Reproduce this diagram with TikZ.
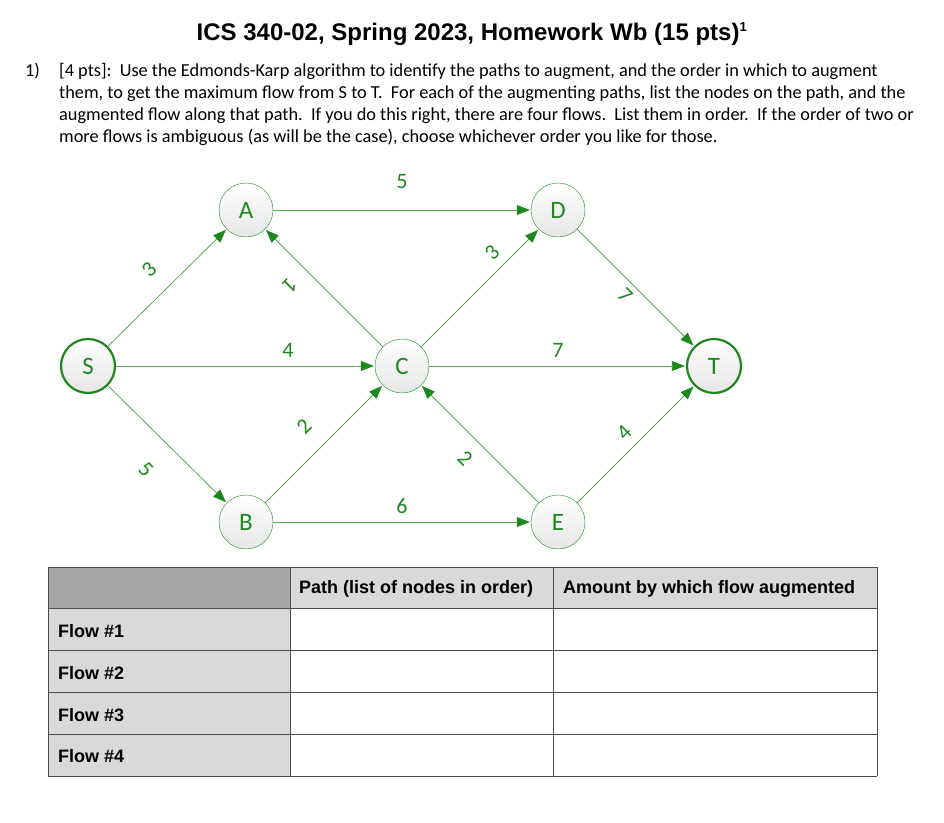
\documentclass[tikz,border=0pt]{standalone}
\usepackage{fontspec}
\setmainfont{Carlito}
\newfontfamily\arialf{Liberation Sans}
\usetikzlibrary{arrows.meta}
\definecolor{gr}{RGB}{30,135,30}
\definecolor{lgr}{RGB}{217,217,217}
\definecolor{dgr}{RGB}{166,166,166}
\tikzset{
 vtx/.style={circle,draw=gr,minimum size=54pt,inner sep=0pt,top color=white,bottom color=black!10,text=gr,font=\fontsize{25}{26}\selectfont},
 thickvtx/.style={vtx,line width=2.2pt},
 edge/.style={draw=gr!75,line width=0.8pt,-{Triangle[length=13pt,width=10pt,color=gr]},shorten >=1pt},
 lab/.style={text=gr,font=\fontsize{22}{24}\selectfont,inner sep=0pt},
 body/.style={anchor=base west,inner sep=0pt,font=\fontsize{18.3}{20}\selectfont},
 cell/.style={draw=black!70,line width=0.8pt},
 tt/.style={anchor=west,inner sep=0pt,font=\arialf\bfseries\fontsize{18}{20}\selectfont}
}
\begin{document}
\begin{tikzpicture}[x=1pt,y=-1pt]
\useasboundingbox (0,0) rectangle (944,822);
\node[inner sep=0pt,font=\arialf\bfseries\fontsize{24}{26}\selectfont] (title) at (472,34) {ICS 340-02, Spring 2023, Homework Wb (15 pts)\textsuperscript{\fontsize{13}{13}\selectfont 1}};
\node[body] (n1) at (25,76) {1)};
\node[body] (l1) at (59,76) {[4 pts]:\ \ Use the Edmonds-Karp algorithm to identify the paths to augment, and the order in which to augment};
\node[body] (l2) at (59,98) {them, to get the maximum flow from S to T.\ \ For each of the augmenting paths, list the nodes on the path, and the};
\node[body] (l3) at (59,120) {augmented flow along that path.\ \ If you do this right, there are four flows.\ \ List them in order.\ \ If the order of two or};
\node[body] (l4) at (59,142) {more flows is ambiguous (as will be the case), choose whichever order you like for those.};

\node[thickvtx] (S) at (88,366) {S};
\node[vtx] (A) at (246,210) {A};
\node[vtx] (D) at (558,210) {D};
\node[vtx] (C) at (402,366) {C};
\node[thickvtx] (T) at (714,366) {T};
\node[vtx] (B) at (246,522) {B};
\node[vtx] (E) at (558,522) {E};

\draw[edge] (S) -- (A);
\draw[edge] (S) -- (C);
\draw[edge] (S) -- (B);
\draw[edge] (C) -- (A);
\draw[edge] (B) -- (C);
\draw[edge] (A) -- (D);
\draw[edge] (B) -- (E);
\draw[edge] (C) -- (D);
\draw[edge] (C) -- (T);
\draw[edge] (E) -- (C);
\draw[edge] (D) -- (T);
\draw[edge] (E) -- (T);

\node[lab,rotate=45] (w1) at (149,270) {3};
\node[lab] (w2) at (288,350) {4};
\node[lab,rotate=-45] (w3) at (146,469) {5};
\node[lab,rotate=-135] (w4) at (290,285) {1};
\node[lab,rotate=45] (w5) at (304,427) {2};
\node[lab] (w6) at (402,182) {5};
\node[lab] (w7) at (402,506) {6};
\node[lab,rotate=45] (w8) at (492,253) {3};
\node[lab] (w9) at (558,350) {7};
\node[lab,rotate=-45] (w10) at (625,295) {7};
\node[lab,rotate=-45] (w11) at (465,458) {2};
\node[lab,rotate=45] (w12) at (624,433) {4};

% table
\fill[dgr] (48,567) rectangle (290,608);
\fill[lgr] (290,567) rectangle (877,608);
\fill[lgr] (48,608) rectangle (290,776);
\foreach \y in {567,608,650,692,734,776} \draw[cell] (48,\y) -- (877,\y);
\foreach \x in {48,290,553,877} \draw[cell] (\x,567) -- (\x,776);
\node[tt] (h1) at (299,589) {Path (list of nodes in order)};
\node[tt] (h2) at (563,589) {Amount by which flow augmented};
\node[tt] (f1) at (58,631) {Flow \#1};
\node[tt] (f2) at (58,673) {Flow \#2};
\node[tt] (f3) at (58,715) {Flow \#3};
\node[tt] (f4) at (58,756) {Flow \#4};
\end{tikzpicture}
\end{document}
